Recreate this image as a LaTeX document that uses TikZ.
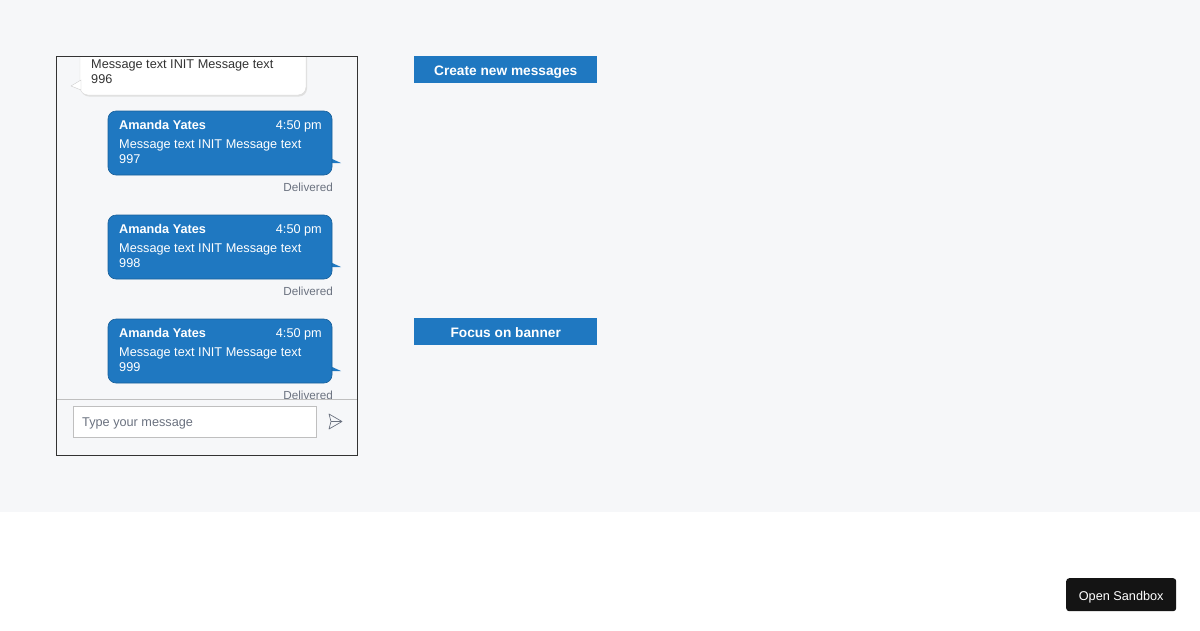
\documentclass[tikz,border=0pt]{standalone}
\usepackage{fontspec}
\setmainfont{Liberation Sans}
\definecolor{bg}{HTML}{F6F7F9}
\definecolor{blu}{HTML}{1F78C1}
\definecolor{txt}{HTML}{333333}
\definecolor{gry}{HTML}{6B7280}
\begin{document}
\begin{tikzpicture}[x=1pt,y=-1pt,
  msg/.style={font=\fontsize{12.7}{15}\selectfont,anchor=north west,inner sep=0pt,align=left},
  btn/.style={fill=blu,text=white,font=\fontsize{13.7}{15}\selectfont\bfseries,minimum width=183pt,minimum height=27pt,inner sep=0pt,anchor=north west,text depth=0pt,text height=12pt},
  bubble/.style={fill=blu,draw=blu!80!black,line width=0.6pt,rounded corners=8pt}]
\useasboundingbox (0,0) rectangle (1200,630);
\fill[bg] (0,0) rectangle (1200,512);
\fill[white] (0,512) rectangle (1200,630);
% panel
\begin{scope}
\clip (56,56) rectangle (357,399);
\fill[black!12] (81,50) [rounded corners=8pt] -- (81,96.5) -- (307,96.5) [sharp corners] -- (307,50);
\draw[white,fill=white,rounded corners=8pt,draw=black!15] (80,40) -- (80,95) -- (306,95) -- (306,40);
\fill[white,draw=black!20] (81,80) -- (71,86) -- (81,90) -- cycle;
\fill[white] (82,79) rectangle (86,91);
\node[msg,text=txt] (m0) at (91,60) {Message text INIT Message text\\996};
\foreach \y/\n in {111/997,215/998,319/999}{
  \fill[blu] (330,\y+47) -- (341,\y+52) -- (330,\y+52) -- cycle;
  \draw[bubble] (108,\y) rectangle (332,\y+64);
  \node[msg,text=white,font=\fontsize{12.7}{15}\selectfont\bfseries] (n\n) at (119,\y+9) {Amanda Yates};
  \node[msg,text=white,anchor=north east] (t\n) at (322,\y+9) {4:50 pm};
  \node[msg,text=white] (b\n) at (119,\y+29) {Message text INIT Message text\\\n};
  \node[msg,text=gry,anchor=north east,font=\fontsize{11.7}{14}\selectfont] (d\n) at (333,\y+72) {Delivered};
}
\end{scope}
\draw[black!25] (56,399) -- (357,399);
\draw[black!80,line width=0.7pt] (56,56) rectangle (357,455);
\draw[black!25,fill=white] (73,406) rectangle (316,437);
\node[msg,text=gry,anchor=west] (inp) at (82,423) {Type your message};
\draw[gry,line width=0.7pt,line join=round] (329,414) -- (342,421.5) -- (329,429) -- (331,421.5) -- cycle (331,421.5) -- (342,421.5);
% buttons
\node[btn] (b1) at (414,56) {Create new messages};
\node[btn] (b2) at (414,318) {Focus on banner};
\node[fill=black!92,text=white,rounded corners=3pt,font=\fontsize{12.7}{15}\selectfont,minimum width=110pt,minimum height=33pt,inner sep=0pt,anchor=north west,text depth=0pt,text height=11pt] (sb) at (1066,578) {Open Sandbox};
\end{tikzpicture}
\end{document}
